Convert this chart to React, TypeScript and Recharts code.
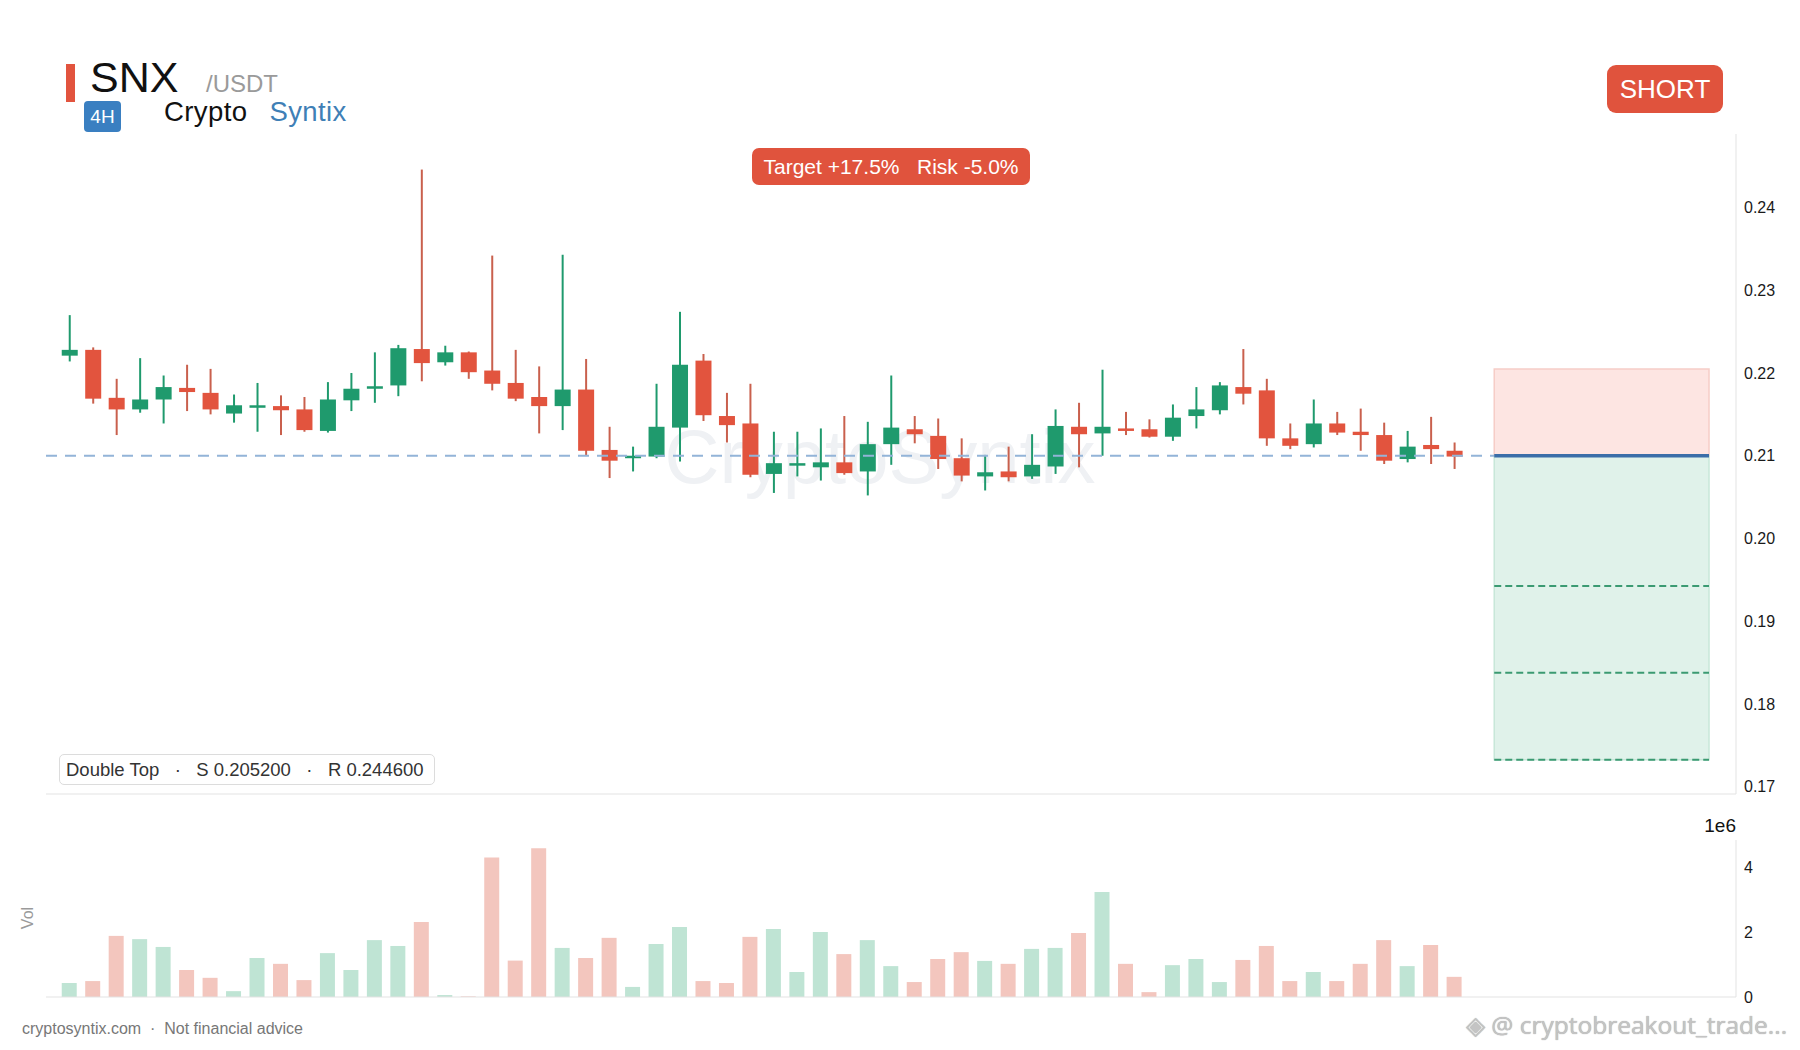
import React from "react";
import { ComposedChart, Bar, XAxis, YAxis, ReferenceLine, ReferenceArea, Cell } from "recharts";

// 4H candles, oldest first
const OPEN = [
  0.2221, 0.2228, 0.217, 0.2156, 0.2168, 0.2182, 0.2176, 0.2151, 0.216, 0.216,
  0.2156, 0.213, 0.2167, 0.2181, 0.2185, 0.2229, 0.2213, 0.2225, 0.2203, 0.2188,
  0.2171, 0.216, 0.218, 0.2107, 0.2098, 0.2099, 0.2134, 0.2215, 0.2148, 0.2139,
  0.2078, 0.209, 0.2086, 0.2092, 0.2081, 0.2114, 0.2132, 0.2124, 0.2097, 0.2075,
  0.2081, 0.2075, 0.2087, 0.2135, 0.2127, 0.2133, 0.2132, 0.2123, 0.2148, 0.2155,
  0.2183, 0.2179, 0.2121, 0.2114, 0.2139, 0.2129, 0.2125, 0.2096, 0.2113, 0.2106,
];
const HIGH = [
  0.227, 0.2231, 0.2193, 0.2218, 0.2197, 0.221, 0.2205, 0.2174, 0.2188, 0.2173,
  0.2171, 0.2189, 0.22, 0.2225, 0.2234, 0.2446, 0.2233, 0.2226, 0.2342, 0.2228,
  0.2208, 0.2343, 0.2217, 0.2135, 0.2111, 0.2187, 0.2274, 0.2223, 0.2176, 0.2187,
  0.2129, 0.2129, 0.2133, 0.2148, 0.2141, 0.2197, 0.2148, 0.2145, 0.2121, 0.2101,
  0.2111, 0.2126, 0.2156, 0.2164, 0.2204, 0.2153, 0.2144, 0.2162, 0.2183, 0.2189,
  0.2229, 0.2193, 0.2139, 0.2168, 0.2153, 0.2157, 0.214, 0.213, 0.2147, 0.2116,
];
const LOW = [
  0.2214, 0.2163, 0.2125, 0.2152, 0.2139, 0.2154, 0.215, 0.214, 0.2129, 0.2125,
  0.2129, 0.2128, 0.2154, 0.2164, 0.2172, 0.219, 0.2209, 0.2193, 0.2179, 0.2166,
  0.2127, 0.2131, 0.21, 0.2073, 0.2081, 0.2097, 0.2093, 0.2142, 0.2116, 0.2074,
  0.2055, 0.2075, 0.207, 0.2077, 0.2052, 0.2089, 0.2115, 0.2084, 0.2069, 0.2058,
  0.2069, 0.2072, 0.2078, 0.2086, 0.21, 0.2125, 0.2122, 0.2118, 0.2133, 0.215,
  0.2162, 0.2112, 0.2108, 0.211, 0.2125, 0.2106, 0.209, 0.2092, 0.209, 0.2084,
];
const CLOSE = [
  0.2228, 0.2169, 0.2156, 0.2168, 0.2183, 0.2177, 0.2156, 0.2161, 0.2161, 0.2155,
  0.2131, 0.2168, 0.2181, 0.2184, 0.223, 0.2212, 0.2225, 0.2201, 0.2187, 0.2169,
  0.216, 0.218, 0.2106, 0.2094, 0.21, 0.2135, 0.221, 0.2149, 0.2137, 0.2077,
  0.2091, 0.2091, 0.2092, 0.2079, 0.2114, 0.2134, 0.2126, 0.2096, 0.2076, 0.208,
  0.2074, 0.2089, 0.2136, 0.2126, 0.2135, 0.2131, 0.2123, 0.2146, 0.2156, 0.2185,
  0.2175, 0.2121, 0.2112, 0.2139, 0.2128, 0.2125, 0.2094, 0.2111, 0.2108, 0.2099,
];
// volume in millions
const VOLUME = [
  0.43, 0.49, 1.88, 1.78, 1.54, 0.83, 0.59, 0.18, 1.2, 1.02,
  0.52, 1.35, 0.83, 1.75, 1.57, 2.31, 0.06, 0.02, 4.29, 1.12,
  4.58, 1.51, 1.2, 1.82, 0.31, 1.63, 2.15, 0.49, 0.43, 1.85,
  2.09, 0.77, 2.0, 1.32, 1.75, 0.95, 0.46, 1.17, 1.38, 1.11,
  1.02, 1.48, 1.51, 1.97, 3.23, 1.02, 0.15, 0.98, 1.17, 0.46,
  1.14, 1.57, 0.49, 0.77, 0.49, 1.02, 1.75, 0.95, 1.6, 0.62,
];

const PRICE_TICKS = [0.17, 0.18, 0.19, 0.2, 0.21, 0.22, 0.23, 0.24];
const VOL_TICKS = [0, 2e6, 4e6];

const ENTRY = 0.21;
const STOP = 0.2205;
const TARGETS = [0.19425, 0.18375, 0.17325];

const GREEN = "#1f9a6d";
const RED = "#e2543e";
const RED_WICK = "#c9604d";
const VOL_GREEN = "#bfe4d4";
const VOL_RED = "#f3c6be";
const FONT = "'Liberation Sans', Arial, sans-serif";

const BOX_X1 = 60.7;
const BOX_X2 = 69.85;
const X_DOMAIN: [number, number] = [-1, 71];

const rows = OPEN.map((o, i) => ({
  x: i,
  open: o,
  high: HIGH[i],
  low: LOW[i],
  close: CLOSE[i],
  range: [LOW[i], HIGH[i]],
  vol: VOLUME[i] * 1e6,
  up: CLOSE[i] >= o,
}));

function Candle(props: any) {
  const { x, y, width, height } = props;
  const d = props.payload ?? props;
  const span = d.high - d.low || 1e-9;
  const py = (p: number) => y + ((d.high - p) / span) * height;
  const top = py(Math.max(d.open, d.close));
  const bot = py(Math.min(d.open, d.close));
  const cx = x + width / 2;
  return (
    <g>
      <line x1={cx} x2={cx} y1={y} y2={y + height} stroke={d.up ? GREEN : RED_WICK} strokeWidth={2} />
      <rect x={x} y={top} width={width} height={Math.max(bot - top, 2.5)} fill={d.up ? GREEN : RED} />
    </g>
  );
}

const tickStyle = { fontSize: 16, fill: "#1a1a1a", fontFamily: FONT };

export default function App() {
  return (
    <div
      style={{
        position: "absolute",
        left: 0,
        top: 0,
        width: 1800,
        height: 1050,
        background: "#fff",
        overflow: "hidden",
        fontFamily: FONT,
      }}
    >
      {/* header */}
      <div style={{ position: "absolute", left: 66, top: 64, width: 9, height: 38, background: RED }} />
      <div style={{ position: "absolute", left: 90, top: 56, fontSize: 43, color: "#111", lineHeight: "42px" }}>SNX</div>
      <div style={{ position: "absolute", left: 206, top: 73, fontSize: 24, color: "#9a9a9a", lineHeight: "22px" }}>/USDT</div>
      <div
        style={{
          position: "absolute",
          left: 84,
          top: 101,
          width: 37,
          height: 31,
          background: "#3a7fc1",
          borderRadius: 4,
          color: "#fff",
          fontSize: 19,
          lineHeight: "31px",
          textAlign: "center",
        }}
      >
        4H
      </div>
      <div style={{ position: "absolute", left: 164, top: 99, fontSize: 27.5, lineHeight: "26px", letterSpacing: 0.4 }}>
        <span style={{ color: "#111" }}>Crypto</span>
        <span style={{ color: "#3f80b6", marginLeft: 22 }}>Syntix</span>
      </div>
      <div
        style={{
          position: "absolute",
          left: 1607,
          top: 65,
          width: 116,
          height: 48,
          background: "#e0533d",
          borderRadius: 9,
          color: "#fff",
          fontSize: 26,
          lineHeight: "48px",
          textAlign: "center",
        }}
      >
        SHORT
      </div>

      {/* faint watermark behind candles */}
      <div
        style={{
          position: "absolute",
          left: 660,
          top: 414,
          width: 440,
          textAlign: "center",
          fontSize: 76,
          color: "#eff1f4",
          lineHeight: "86px",
        }}
      >
        CryptoSyntix
      </div>

      <div style={{ position: "absolute", left: 0, top: 0 }}>
        <ComposedChart width={1800} height={800} data={rows} margin={{ top: 134, right: 0, bottom: 5, left: 46 }}>
          <XAxis
            dataKey="x"
            type="number"
            domain={X_DOMAIN}
            allowDataOverflow
            height={1}
            tick={false}
            tickLine={false}
            axisLine={{ stroke: "#e3e3e3" }}
          />
          <YAxis
            orientation="right"
            width={64}
            domain={[0.1691, 0.2489]}
            ticks={PRICE_TICKS}
            allowDataOverflow
            tickFormatter={(v: number) => v.toFixed(2)}
            tick={tickStyle}
            tickLine={false}
            axisLine={{ stroke: "#e3e3e3" }}
          />
          <ReferenceLine
            segment={[{ x: -1, y: ENTRY }, { x: BOX_X1, y: ENTRY }]}
            stroke="#93b4d8"
            strokeWidth={2}
            strokeDasharray="11 8"
          />
          <ReferenceArea x1={BOX_X1} x2={BOX_X2} y1={ENTRY} y2={STOP} fill="#fde5e2" fillOpacity={1} stroke="#f6cdc7" strokeWidth={1.5} />
          <ReferenceArea
            x1={BOX_X1}
            x2={BOX_X2}
            y1={TARGETS[2]}
            y2={ENTRY}
            fill="#e0f2ea"
            fillOpacity={1}
            stroke="#c8e7d9"
            strokeWidth={1.5}
          />
          {TARGETS.map((t) => (
            <ReferenceLine
              key={t}
              segment={[{ x: BOX_X1, y: t }, { x: BOX_X2, y: t }]}
              stroke="#3b9a72"
              strokeWidth={2}
              strokeDasharray="7 4"
            />
          ))}
          <ReferenceLine segment={[{ x: BOX_X1, y: ENTRY }, { x: BOX_X2, y: ENTRY }]} stroke="#3b6ea8" strokeWidth={3.5} />
          <Bar dataKey="range" barSize={16} shape={<Candle />} isAnimationActive={false} />
        </ComposedChart>
      </div>

      <div style={{ position: "absolute", left: 0, top: 800 }}>
        <ComposedChart width={1800} height={250} data={rows} margin={{ top: 40, right: 0, bottom: 52, left: 46 }}>
          <XAxis
            dataKey="x"
            type="number"
            domain={X_DOMAIN}
            allowDataOverflow
            height={1}
            tick={false}
            tickLine={false}
            axisLine={{ stroke: "#e3e3e3" }}
          />
          <YAxis
            orientation="right"
            width={64}
            domain={[0, 4.83e6]}
            ticks={VOL_TICKS}
            allowDataOverflow
            tickFormatter={(v: number) => String(v / 1e6)}
            tick={tickStyle}
            tickLine={false}
            axisLine={{ stroke: "#e3e3e3" }}
          />
          <Bar dataKey="vol" barSize={15} isAnimationActive={false}>
            {rows.map((r) => (
              <Cell key={r.x} fill={r.up ? VOL_GREEN : VOL_RED} />
            ))}
          </Bar>
        </ComposedChart>
      </div>

      {/* overlays */}
      <div
        style={{
          position: "absolute",
          left: 752,
          top: 148,
          width: 278,
          height: 37,
          background: "#e0533d",
          borderRadius: 7,
          color: "#fff",
          fontSize: 21,
          lineHeight: "37px",
          textAlign: "center",
          whiteSpace: "pre",
        }}
      >
        {"Target +17.5%   Risk -5.0%"}
      </div>
      <div
        style={{
          position: "absolute",
          left: 59,
          top: 754,
          width: 376,
          height: 31,
          border: "1.5px solid #dcdcdc",
          borderRadius: 5,
          background: "#fff",
          color: "#333",
          fontSize: 18.5,
          lineHeight: "29px",
          paddingLeft: 6,
          boxSizing: "border-box",
          whiteSpace: "pre",
        }}
      >
        {"Double Top   ·   S 0.205200   ·   R 0.244600"}
      </div>
      <div style={{ position: "absolute", left: 1690, top: 815, width: 46, textAlign: "right", fontSize: 19, color: "#111" }}>1e6</div>
      <div
        style={{
          position: "absolute",
          left: 28,
          top: 918,
          transform: "translate(-50%, -50%) rotate(-90deg)",
          fontSize: 16,
          color: "#9a9a9a",
        }}
      >
        Vol
      </div>
      <div style={{ position: "absolute", left: 22, top: 1020, fontSize: 16, color: "#777", whiteSpace: "pre" }}>
        {"cryptosyntix.com  ·  Not financial advice"}
      </div>
      <div
        style={{
          position: "absolute",
          left: 1466,
          top: 1008,
          fontSize: 24.5,
          color: "#c4c4c4",
          fontFamily: "'Open Sans', sans-serif",
          whiteSpace: "pre",
          textShadow: "0 0 1px #999",
        }}
      >
        {"◈ @ cryptobreakout_trade..."}
      </div>
    </div>
  );
}
